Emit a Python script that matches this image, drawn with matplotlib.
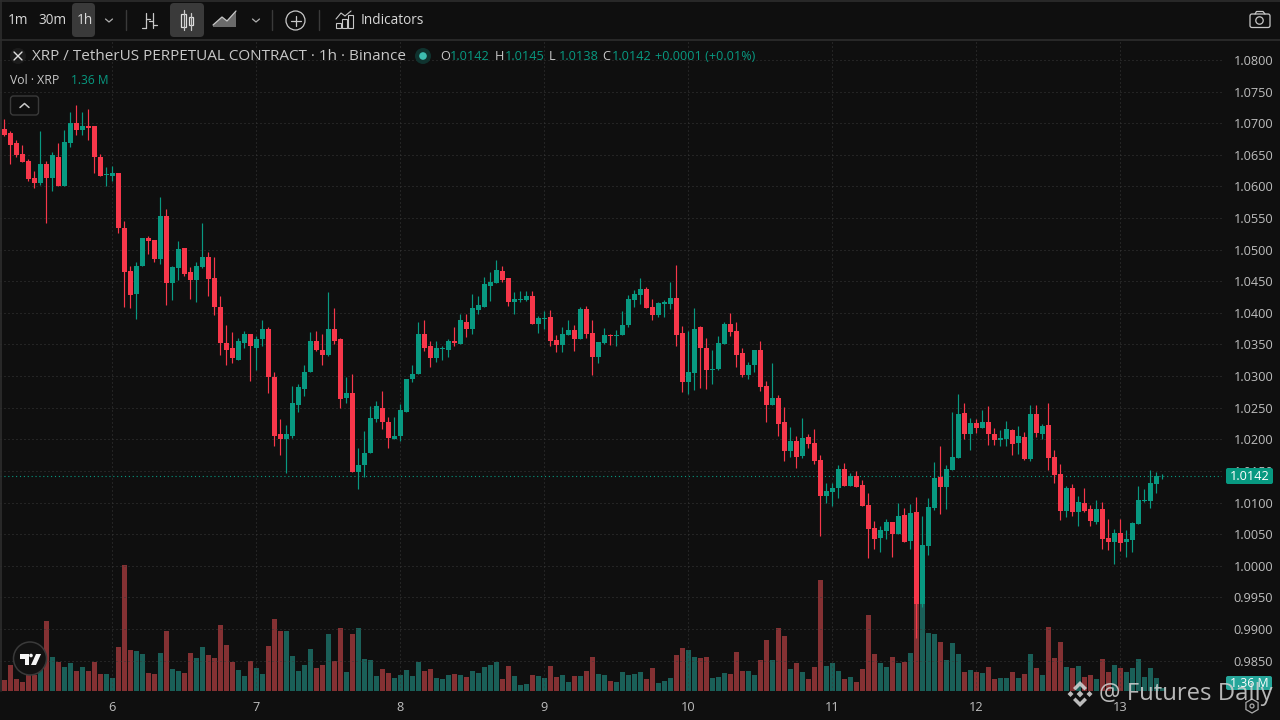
import numpy as np
import matplotlib
matplotlib.use("Agg")
import matplotlib.pyplot as plt
from matplotlib.patches import Circle, FancyBboxPatch, Polygon, Rectangle

plt.rcParams['font.family'] = ['Open Sans', 'DejaVu Sans']

# ---- hourly XRP/USDT values ----
opens = [1.0691,1.0684,1.0668,1.0652,1.0641,1.0613,1.0606,1.0635,1.0613,1.0647,1.0601,1.0669,1.0701,1.0690,1.0696,1.0695,1.0647,1.0618,1.0617,1.0622,
1.0534,1.0466,1.0430,1.0474,1.0518,1.0515,1.0486,1.0554,1.0447,1.0471,1.0502,1.0464,1.0452,1.0472,1.0488,1.0455,1.0410,1.0353,1.0344,1.0326,
1.0353,1.0367,1.0345,1.0358,1.0374,1.0299,1.0208,1.0200,1.0206,1.0255,1.0279,1.0306,1.0356,1.0342,1.0334,1.0375,1.0358,1.0265,1.0274,1.0149,
1.0159,1.0178,1.0232,1.0250,1.0227,1.0200,1.0205,1.0244,1.0295,1.0304,1.0367,1.0347,1.0328,1.0343,1.0342,1.0356,1.0351,1.0386,1.0374,1.0405,
1.0410,1.0443,1.0448,1.0467,1.0455,1.0417,1.0421,1.0420,1.0426,1.0382,1.0391,1.0393,1.0357,1.0349,1.0365,1.0373,1.0359,1.0406,1.0368,1.0330,
1.0352,1.0365,1.0363,1.0365,1.0381,1.0420,1.0428,1.0437,1.0409,1.0396,1.0414,1.0414,1.0423,1.0368,1.0291,1.0305,1.0377,1.0344,1.0310,1.0311,
1.0350,1.0383,1.0372,1.0336,1.0301,1.0317,1.0341,1.0285,1.0255,1.0266,1.0227,1.0181,1.0197,1.0173,1.0203,1.0194,1.0167,1.0110,1.0116,1.0123,
1.0153,1.0126,1.0142,1.0127,1.0096,1.0060,1.0044,1.0055,1.0069,1.0050,1.0080,1.0039,1.0085,0.9940,1.0031,1.0091,1.0140,1.0125,1.0151,1.0170,
1.0241,1.0208,1.0226,1.0218,1.0227,1.0208,1.0199,1.0200,1.0215,1.0194,1.0203,1.0169,1.0240,1.0208,1.0222,1.0172,1.0145,1.0087,1.0123,1.0085,
1.0099,1.0090,1.0069,1.0090,1.0044,1.0038,1.0052,1.0038,1.0041,1.0066,1.0103,1.0102,1.0129,1.0142]
highs = [1.0706,1.0688,1.0674,1.0665,1.0644,1.0624,1.0687,1.0641,1.0654,1.0668,1.0690,1.0717,1.0729,1.0717,1.0723,1.0695,1.0652,1.0630,1.0633,1.0622,
1.0545,1.0474,1.0480,1.0519,1.0521,1.0516,1.0584,1.0565,1.0474,1.0513,1.0502,1.0472,1.0480,1.0542,1.0496,1.0488,1.0426,1.0381,1.0370,1.0361,
1.0372,1.0367,1.0364,1.0389,1.0378,1.0307,1.0232,1.0222,1.0284,1.0287,1.0317,1.0370,1.0372,1.0366,1.0433,1.0408,1.0361,1.0299,1.0303,1.0186,
1.0213,1.0252,1.0261,1.0276,1.0235,1.0236,1.0256,1.0296,1.0317,1.0385,1.0389,1.0355,1.0356,1.0348,1.0358,1.0378,1.0399,1.0399,1.0430,1.0427,
1.0456,1.0465,1.0484,1.0474,1.0455,1.0433,1.0434,1.0434,1.0434,1.0395,1.0403,1.0404,1.0365,1.0377,1.0389,1.0381,1.0409,1.0411,1.0389,1.0354,
1.0376,1.0366,1.0373,1.0403,1.0428,1.0436,1.0455,1.0441,1.0422,1.0417,1.0420,1.0449,1.0475,1.0379,1.0371,1.0407,1.0380,1.0361,1.0341,1.0363,
1.0385,1.0400,1.0385,1.0345,1.0323,1.0342,1.0355,1.0292,1.0320,1.0270,1.0251,1.0219,1.0205,1.0233,1.0208,1.0216,1.0175,1.0131,1.0131,1.0159,
1.0162,1.0146,1.0150,1.0135,1.0115,1.0071,1.0063,1.0074,1.0069,1.0099,1.0091,1.0097,1.0109,1.0079,1.0107,1.0164,1.0189,1.0159,1.0244,1.0271,
1.0257,1.0233,1.0232,1.0246,1.0252,1.0218,1.0215,1.0229,1.0216,1.0221,1.0211,1.0254,1.0254,1.0224,1.0257,1.0183,1.0161,1.0126,1.0129,1.0110,
1.0123,1.0096,1.0104,1.0101,1.0074,1.0058,1.0074,1.0057,1.0069,1.0126,1.0121,1.0151,1.0148,1.0145]
lows = [1.0679,1.0636,1.0646,1.0639,1.0608,1.0597,1.0603,1.0542,1.0592,1.0601,1.0601,1.0663,1.0682,1.0682,1.0673,1.0622,1.0617,1.0601,1.0608,1.0526,
1.0409,1.0407,1.0390,1.0474,1.0493,1.0480,1.0477,1.0412,1.0420,1.0452,1.0458,1.0422,1.0418,1.0471,1.0426,1.0396,1.0333,1.0318,1.0321,1.0325,
1.0344,1.0293,1.0310,1.0348,1.0273,1.0190,1.0175,1.0146,1.0202,1.0243,1.0268,1.0306,1.0340,1.0318,1.0332,1.0351,1.0250,1.0257,1.0149,1.0121,
1.0140,1.0178,1.0228,1.0216,1.0186,1.0200,1.0198,1.0244,1.0291,1.0304,1.0339,1.0315,1.0323,1.0326,1.0331,1.0348,1.0351,1.0362,1.0367,1.0399,
1.0410,1.0419,1.0448,1.0449,1.0411,1.0398,1.0417,1.0419,1.0382,1.0368,1.0374,1.0348,1.0338,1.0338,1.0365,1.0340,1.0359,1.0360,1.0302,1.0321,
1.0351,1.0349,1.0348,1.0365,1.0377,1.0409,1.0414,1.0407,1.0389,1.0393,1.0393,1.0406,1.0348,1.0275,1.0272,1.0278,1.0281,1.0279,1.0287,1.0309,
1.0350,1.0364,1.0314,1.0298,1.0296,1.0306,1.0276,1.0228,1.0254,1.0206,1.0165,1.0172,1.0154,1.0170,1.0186,1.0161,1.0047,1.0099,1.0094,1.0107,
1.0126,1.0126,1.0124,1.0094,1.0012,1.0026,1.0022,1.0042,1.0014,1.0050,1.0038,1.0026,0.9886,0.9934,1.0017,1.0088,1.0082,1.0090,1.0151,1.0170,
1.0200,1.0183,1.0210,1.0218,1.0191,1.0191,1.0189,1.0189,1.0175,1.0177,1.0167,1.0166,1.0203,1.0200,1.0151,1.0131,1.0072,1.0077,1.0079,1.0063,
1.0085,1.0063,1.0066,1.0027,1.0025,1.0003,1.0024,1.0014,1.0022,1.0066,1.0101,1.0091,1.0115,1.0138]
closes = [1.0682,1.0665,1.0650,1.0639,1.0611,1.0605,1.0635,1.0614,1.0649,1.0601,1.0671,1.0701,1.0690,1.0695,1.0693,1.0646,1.0617,1.0619,1.0622,1.0534,
1.0464,1.0428,1.0474,1.0519,1.0513,1.0486,1.0554,1.0447,1.0472,1.0501,1.0461,1.0452,1.0474,1.0488,1.0453,1.0409,1.0353,1.0342,1.0328,1.0355,
1.0367,1.0347,1.0359,1.0374,1.0299,1.0206,1.0200,1.0208,1.0257,1.0282,1.0307,1.0356,1.0342,1.0334,1.0375,1.0356,1.0263,1.0274,1.0149,1.0160,
1.0179,1.0233,1.0252,1.0227,1.0202,1.0206,1.0246,1.0296,1.0304,1.0367,1.0345,1.0328,1.0344,1.0344,1.0356,1.0353,1.0388,1.0374,1.0408,1.0413,
1.0445,1.0449,1.0468,1.0452,1.0417,1.0422,1.0422,1.0426,1.0382,1.0392,1.0392,1.0355,1.0349,1.0366,1.0373,1.0359,1.0406,1.0366,1.0330,1.0354,
1.0365,1.0363,1.0365,1.0381,1.0422,1.0430,1.0437,1.0407,1.0396,1.0415,1.0417,1.0423,1.0365,1.0291,1.0306,1.0374,1.0344,1.0309,1.0311,1.0352,
1.0382,1.0369,1.0334,1.0301,1.0318,1.0342,1.0282,1.0255,1.0265,1.0225,1.0181,1.0197,1.0172,1.0202,1.0192,1.0165,1.0110,1.0118,1.0123,1.0153,
1.0126,1.0142,1.0124,1.0094,1.0058,1.0042,1.0056,1.0069,1.0050,1.0079,1.0038,1.0083,0.9940,1.0033,1.0093,1.0139,1.0125,1.0153,1.0172,1.0240,
1.0208,1.0226,1.0218,1.0227,1.0208,1.0199,1.0202,1.0216,1.0192,1.0205,1.0169,1.0240,1.0210,1.0221,1.0170,1.0144,1.0087,1.0123,1.0085,1.0101,
1.0087,1.0071,1.0090,1.0043,1.0038,1.0052,1.0036,1.0043,1.0068,1.0104,1.0104,1.0131,1.0142,1.0142]
volumes_m = [5.0,11.7,5.4,4.1,7.2,7.2,9.5,31.5,15.3,13.1,10.8,12.6,9.0,10.8,9.0,13.1,7.7,7.7,5.9,19.8,
56.7,18.5,18.0,16.7,8.1,7.7,17.1,27.0,9.9,9.0,8.1,17.1,14.9,19.8,16.2,14.9,29.7,20.7,13.1,9.5,
6.8,13.5,10.4,7.7,20.3,32.4,27.0,27.0,15.8,9.0,11.7,18.9,10.4,11.7,25.7,13.5,28.4,8.6,25.7,28.4,
14.4,14.0,6.8,9.9,8.1,5.9,7.2,9.5,6.8,13.1,9.0,9.9,5.9,5.4,7.2,7.7,7.2,6.3,9.0,8.1,
10.8,11.7,13.1,5.4,11.3,6.8,2.7,3.2,7.2,6.8,5.9,11.3,6.3,7.2,4.1,6.8,6.8,9.0,15.3,7.7,
7.2,4.5,4.1,8.6,7.2,7.7,8.6,5.4,10.4,3.6,4.5,5.9,16.2,19.4,18.5,15.3,14.9,15.3,5.9,6.3,
8.1,7.7,17.6,9.0,9.0,7.2,14.0,23.0,14.0,28.4,24.8,9.9,12.6,8.6,5.4,10.8,50.0,11.3,12.6,9.0,
5.4,6.3,4.1,9.9,34.2,16.7,12.6,10.8,15.3,12.6,13.1,17.1,41.0,39.0,26.1,25.7,22.1,14.0,21.6,16.7,
8.6,9.5,8.6,8.1,10.8,5.4,5.9,5.9,8.6,5.9,7.7,16.7,10.4,7.2,28.8,14.9,22.1,10.8,10.4,11.3,
6.3,7.2,5.4,14.4,8.6,11.7,10.4,8.6,10.4,14.4,6.3,10.4,5.9,1.36]
price_ticks = [1.08,1.075,1.07,1.065,1.06,1.055,1.05,1.045,1.04,1.035,1.03,1.025,1.02,1.015,1.01,1.005,1.0,0.995,0.99,0.985]
day_labels = ['6','7','8','9','10','11','12','13']
day_index = [18,42,66,90,114,138,162,186]
toolbar_intervals = ['1m','30m','1h']

# ---- palette ----
BG='#0F0F0F'; UP='#089981'; DOWN='#F7374A'; VUP='#1A5F58'; VDOWN='#843133'
GRID='#3A3A3A'; TXT='#BEBEBE'; LINE='#2E2E2E'

W,H_=1280,720
fig=plt.figure(figsize=(12.8,7.2),dpi=100,facecolor=BG)
L,R,T,B=0,1222,40,691
pos=[L/W,1-B/H_,(R-L)/W,(B-T)/H_]
px_per_unit=6322.0
xlim=((L-4.33)/6,(R-4.33)/6)
ylim=(1.08-(B-60)/px_per_unit,1.08+(60-T)/px_per_unit)

idx=np.arange(len(opens))
o,h,l,c=map(np.array,(opens,highs,lows,closes))
up=c>=o

# volume pane
axv=fig.add_axes(pos,zorder=1,facecolor=BG)
axv.bar(idx,volumes_m,width=5/6,color=[VUP if u else VDOWN for u in up],linewidth=0)
axv.set_xlim(xlim); axv.set_ylim(0,(B-T)*0.45); axv.axis('off')
axv.patch.set_visible(True)

# price pane
ax=fig.add_axes(pos,zorder=2,facecolor='none')
ax.set_xlim(xlim); ax.set_ylim(ylim)
for s in ax.spines.values(): s.set_visible(False)
ax.set_axisbelow(True)
ax.grid(True,color=GRID,lw=0.72,ls=(0,(1,3)))
ax.yaxis.tick_right()
ax.set_yticks(price_ticks,[f'{p:.4f}' for p in price_ticks])
ax.set_xticks(day_index,day_labels)
ax.tick_params(axis='y',length=0,pad=8.5,labelsize=9.2,labelcolor=TXT)
ax.tick_params(axis='x',length=0,pad=7,labelsize=9.2,labelcolor=TXT)
for t in ax.get_yticklabels():
    t.set_verticalalignment('center_baseline')
cols=[UP if u else DOWN for u in up]
ax.vlines(idx,l,h,colors=cols,lw=0.85,zorder=3)
ax.bar(idx,np.abs(c-o),bottom=np.minimum(o,c),width=5/6,color=cols,linewidth=0,zorder=4)
ax.axhline(closes[-1],color=UP,lw=0.8,ls=(0,(1,2.5)),zorder=2.5)

# ---- interface chrome in pixel coordinates ----
ui=fig.add_axes([0,0,1,1],zorder=5,facecolor='none')
ui.set_xlim(0,W); ui.set_ylim(H_,0); ui.axis('off')
def seg(xs,ys,color='#C8C8C8',lw=0.9,**k): ui.plot(xs,ys,color=color,lw=lw,solid_capstyle='round',**k)
def label(x,y,s,color=TXT,size=9.5,ha='left',**k): ui.text(x,y,s,color=color,fontsize=size,ha=ha,va='center',**k)
def chip(x0,y0,x1,y1,fc,ec='none',r=4,lw=0.8):
    ui.add_patch(FancyBboxPatch((x0+r,y0+r),x1-x0-2*r,y1-y0-2*r,boxstyle=f'round,pad={r},rounding_size={r}',fc=fc,ec=ec,lw=lw))

ui.add_patch(Rectangle((0,0),W,39.5,fc=BG,ec='none'))
seg([0,W],[39.5,39.5],LINE,1.2)
seg([0,W],[0.5,0.5],LINE,1.2)
seg([0.5,0.5],[0,B],LINE,1.2)
chip(72,3,95,37,'#3A3A3A')
chip(170,3,204,37,'#3A3A3A')
for x,s in zip([8,38,77],toolbar_intervals):
    label(x,20,s,'#D8D8D8',9.8)
for cx in (109,256):
    seg([cx-3.5,cx,cx+3.5],[19,22,19],'#B0B0B0',0.9)
for x in (126,272,319):
    seg([x,x],[10,30],'#3A3A3A',1)
# bar-style icon
seg([146,146],[13,28]); seg([142,146],[28,28]); seg([146,150],[19,19])
seg([153,153],[13,28]); seg([149,153],[21,21]); seg([153,157],[25,25])
# candle-style icon
seg([183.5,183.5],[10,30]); ui.add_patch(Rectangle((181,13.5),5,13,fc='#3A3A3A',ec='#E0E0E0',lw=0.9))
seg([191,191],[13,30]); ui.add_patch(Rectangle((189,17),4,8,fc='#3A3A3A',ec='#E0E0E0',lw=0.9))
# area icon
area=[(213,25),(222,17),(227,21),(236,11),(236,27),(213,27)]
ui.add_patch(Polygon(area,fc='#8A8A8A',ec='none',alpha=0.75))
seg([213,222,227,236],[25,17,21,11],'#C8C8C8',0.9)
# add icon
ui.add_patch(Circle((295.5,20.5),9.5,fc='none',ec='#C8C8C8',lw=0.9))
seg([295.5,295.5],[15.5,25.5]); seg([290.5,300.5],[20.5,20.5])
# indicators icon
for x0,y0 in ((336,23),(342,19),(348,15)):
    ui.add_patch(Rectangle((x0,y0),5,28-y0,fc='none',ec='#C8C8C8',lw=0.8))
seg([336,341,345,351],[19,13,16,11],'#C8C8C8',0.8)
label(361,20,'Indicators','#D8D8D8',9.8)
# camera
chip(1250,14,1270,27.5,'none','#C8C8C8',r=2,lw=0.9)
seg([1255,1256.5,1263,1265],[14,11.5,11.5,14])
ui.add_patch(Circle((1259.5,20.5),3.7,fc='none',ec='#C8C8C8',lw=0.9))

# legend rows
ui.add_patch(Circle((18,56),8,fc='#1C1C1C',ec='none'))
seg([14,22],[52,60],'#E0E0E0',1); seg([14,22],[60,52],'#E0E0E0',1)
label(32,56.5,'XRP / TetherUS PERPETUAL CONTRACT · 1h · Binance','#C8C8C8',10.95)
ui.add_patch(Circle((423,56),8,fc='#10332F',ec='none'))
ui.add_patch(Circle((423,56),3.8,fc='#3DBDB0',ec='none'))
ohlc_x=[440,495,549,602]
for x,k,v in zip(ohlc_x,'OHLC',(opens[-1],highs[-1],lows[-1],closes[-1])):
    label(x,56.5,k,'#C8C8C8',9.2)
    label(x+9.5,56.5,f'{v:.4f}',UP,9.2)
label(655,56.5,'+0.0001 (+0.01%)',UP,9.1)
label(10,80.5,'Vol · XRP','#C8C8C8',8.8)
label(71,80.5,'1.36 M',UP,8.6)
chip(10.5,96,38.5,115,BG,'#3A3A3A',r=3,lw=1)
seg([20,24.5,29],[107.5,103.5,107.5],'#C8C8C8',1.1)

# TradingView badge
ui.add_patch(Circle((30,658.5),16.5,fc='#121212',ec='#3A3A3A',lw=1.1))
ui.add_patch(Polygon([(20,654),(29,654),(29,665),(25,665),(25,659),(20,659)],fc='#F5F5F5',ec='none'))
ui.add_patch(Circle((31,655.5),1.8,fc='#F5F5F5',ec='none'))
ui.add_patch(Polygon([(36,654),(41,654),(36,665),(31,665)],fc='#F5F5F5',ec='none'))

# last price and volume labels
ui.add_patch(FancyBboxPatch((1227,469),45,14,boxstyle='round,pad=1,rounding_size=2',fc=UP,ec='none'))
ui.text(1249.5,476.5,f'{closes[-1]:.4f}',color='#FFFFFF',fontsize=9.2,ha='center',va='center')
ui.add_patch(FancyBboxPatch((1227,677),44,12,boxstyle='round,pad=1,rounding_size=2',fc='#26A69A',ec='none'))
ui.text(1249.5,683.5,'1.36 M',color='#FFFFFF',fontsize=8.8,ha='center',va='center')

# settings icon
hexa=[(1252+7*np.cos(a),706+7*np.sin(a)) for a in np.deg2rad(np.arange(30,390,60))]
ui.add_patch(Polygon(hexa,fc='none',ec='#AAAAAA',lw=0.9))
ui.add_patch(Circle((1252,706),2,fc='none',ec='#AAAAAA',lw=0.9))

# watermark
wm='#D0D0D0'
cx,cy=1080,694
def dia(x,y,r): ui.add_patch(Polygon([(x,y-r),(x+r,y),(x,y+r),(x-r,y)],fc=wm,ec='none',alpha=0.9))
dia(cx,cy,3.4); dia(cx-9.5,cy,3); dia(cx+9.5,cy,3)
ui.add_patch(Polygon([(cx,cy-13),(cx+7,cy-6),(cx+4.5,cy-3.5),(cx,cy-8),(cx-4.5,cy-3.5),(cx-7,cy-6)],fc=wm,ec='none',alpha=0.9))
ui.add_patch(Polygon([(cx,cy+13),(cx+7,cy+6),(cx+4.5,cy+3.5),(cx,cy+8),(cx-4.5,cy+3.5),(cx-7,cy+6)],fc=wm,ec='none',alpha=0.9))
ui.text(1099,694,'@ Futures Daily',color=wm,alpha=0.88,fontsize=17.2,ha='left',va='center')

fig.savefig('out.png',dpi=100,facecolor=BG)
